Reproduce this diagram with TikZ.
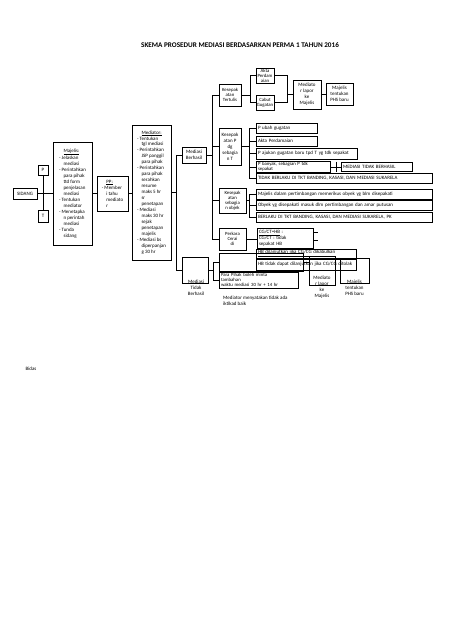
\documentclass[tikz,border=0pt]{standalone}
\usepackage{fontspec}
\setmainfont{Carlito}
\newcommand{\kecil}{\fontsize{5}{6}\selectfont}
\newcommand{\rapat}{\fontsize{4.8}{5}\selectfont}
\newcommand{\geser}{\hspace*{4.5bp}}
\tikzset{
  kotak/.style={draw, line width=0.75pt, inner sep=1pt, font=\kecil, align=center},
  lebar/.style={kotak, align=left, inner xsep=2pt},
  teks/.style={inner sep=0pt, font=\kecil, align=center},
  sambung/.style={line width=0.75pt},
}
\begin{document}
\begin{tikzpicture}[x=1bp,y=-1bp]
\useasboundingbox (0,0) rectangle (474,632);
\node[font=\bfseries\fontsize{7.2}{8}\selectfont] (judul) at (240,45) {SKEMA PROSEDUR MEDIASI BERDASARKAN PERMA 1 TAHUN 2016};

% sidang dan majelis
\node[kotak, minimum width=24bp, minimum height=11bp] (sidang) at (25,193.5) {SIDANG};
\node[kotak, minimum width=10bp, minimum height=10bp] (p) at (43,170) {P};
\node[kotak, minimum width=10bp, minimum height=12bp] (t) at (43,216) {T};
\node[lebar, minimum width=39bp, minimum height=103bp] (majelis) at (72.5,193.5) {\geser\underline{Majelis:}\\
- Jelaskan\\\geser mediasi\\
- Perintahkan\\\geser para pihak\\\geser ttd form\\\geser penjelasan\\\geser mediasi\\
- Tentukan\\\geser mediator\\
- Menetapka\\\geser n perintah\\\geser mediasi\\
- Tunda\\\geser sidang};
\node[lebar, minimum width=31bp, minimum height=35bp] (pp) at (112.5,193.5) {\geser\underline{PP:}\\
- Member\\\geser i tahu\\\geser mediato\\\geser r};
\node[lebar, minimum width=39bp, minimum height=135bp] (mediator) at (151.5,192.5) {\geser\underline{Mediator:}\\
- Tentukan\\\geser tgl mediasi\\
- Perintahkan\\\geser JSP panggil\\\geser para pihak\\
- Perintahkan\\\geser para pihak\\\geser serahkan\\\geser resume\\\geser maks 5 hr\\\geser sr\\\geser penetapan\\
- Mediasi\\\geser maks 30 hr\\\geser sejak\\\geser penetapan\\\geser majelis\\
- Mediasi bs\\\geser diperpanjan\\\geser g 30 hr};
\draw[sambung] (sidang) -- (majelis);
\draw[sambung] (p) -- (t);
\draw[sambung] (majelis) -- (pp);
\draw[sambung] (pp.east) -- (pp.east -| mediator.west);

% mediasi berhasil
\node[kotak, minimum width=24bp, minimum height=16bp] (berhasil) at (194,155) {Mediasi\\Berhasil};
\node[kotak, minimum width=26bp, minimum height=26bp] (tdkberhasil) at (195,270) {};
\node[teks] (tdkteks) at (196,288) {Mediasi\\Tidak\\Berhasil};
\coordinate (cabang1) at (177,192);
\draw[sambung] (mediator.east |- cabang1) -- (cabang1);
\draw[sambung] (berhasil.west) -- ++(-5,0) |- (tdkberhasil.west);

\node[kotak, minimum width=22bp, minimum height=22bp, font=\rapat] (tertulis) at (230,95) {Kesepak\\atan\\Tertulis};
\node[kotak, minimum width=22bp, minimum height=37bp] (sebagiant) at (230,146.5) {Kesepak\\atan P\\dg\\sebagia\\n T};
\node[kotak, minimum width=27bp, minimum height=25bp, font=\rapat] (objek) at (232.5,200.5) {Kesepak\\atan\\sebagia\\n objek};
\node[kotak, minimum width=27bp, minimum height=22bp, font=\rapat] (cerai) at (232.5,239) {Perkara\\Cerai\\di};
\coordinate (cabang2) at (213,155);
\draw[sambung] (berhasil.east) -- (cabang2);
\draw[sambung] (tertulis.west) -- ++(-6,0) |- (cerai.west);
\draw[sambung] (sebagiant.west) -- ++(-6,0);
\draw[sambung] (objek.west) -- ++(-6,0);

% kesepakatan tertulis
\node[kotak, minimum width=18bp, minimum height=15bp, inner sep=0pt, font=\rapat] (akta) at (265,75.5) {Akta\\Perdam\\aian};
\node[kotak, minimum width=18bp, minimum height=15bp, inner sep=0pt, font=\rapat] (cabut) at (265,102.5) {Cabut\\Gugatan};
\node[kotak, minimum width=28bp, minimum height=29bp] (lapor) at (307,94.5) {Mediato\\r lapor\\ke\\Majelis};
\node[kotak, minimum width=27bp, minimum height=22bp] (phs) at (339.5,94) {Majelis\\tentukan\\PHS baru};
\draw[sambung] (tertulis.east) -- (251,95);
\draw[sambung] (akta.west) -- ++(-5,0) |- (cabut.west);
\draw[sambung] (akta.east) -- ++(13,0) |- (cabut.east);
\draw[sambung] (lapor.west) -- ++(-6,0);
\draw[sambung] (lapor.east) -- (lapor.east -| phs.west);

% kesepakatan P dg sebagian T
\node[lebar, minimum width=61bp, minimum height=10bp, text width=57bp] (ubah) at (286.5,128) {P ubah gugatan};
\node[lebar, minimum width=61bp, minimum height=10bp, text width=57bp] (akta2) at (286.5,141) {Akta Perdamaian};
\node[lebar, minimum width=101bp, minimum height=11bp, text width=97bp] (ajukan) at (306.5,153.5) {P ajukan gugatan baru tpd T yg tdk sepakat};
\node[lebar, minimum width=74bp, minimum height=10bp, text width=70bp, font=\rapat] (banyak) at (293,167) {P banyak, sebagian P tdk\\sepakat};
\node[lebar, minimum width=71bp, minimum height=9bp, text width=67bp] (mtb) at (376.5,166.5) {MEDIASI TIDAK BERHASIL};
\node[lebar, minimum width=176bp, minimum height=10bp, text width=172bp] (tdkberlaku) at (344,178) {TIDAK BERLAKU DI TKT BANDING, KASASI, DAN MEDIASI SUKARELA};
\draw[sambung] (sebagiant.east) -- (250,146.5);
\draw[sambung] (ubah.west) -- ++(-6,0) |- (tdkberlaku.west);
\draw[sambung] (akta2.west) -- ++(-6,0);
\draw[sambung] (ajukan.west) -- ++(-6,0);
\draw[sambung] (banyak.west) -- ++(-6,0);
\draw[sambung] (banyak.east) -- (banyak.east -| mtb.west);
\coordinate (tik) at (336,167);
\draw[sambung] ([yshift=5bp]tik) -- ([yshift=-5bp]tik);

% kesepakatan sebagian objek
\node[lebar, minimum width=176bp, minimum height=10bp, text width=172bp] (periksa) at (344,194) {Majelis dalam pertimbangan memerikus obyek yg blm disepakati};
\node[lebar, minimum width=176bp, minimum height=10bp, text width=172bp] (masuk) at (344,205) {Obyek yg disepakati masuk dlm pertimbangan dan amar putusan};
\node[lebar, minimum width=176bp, minimum height=10bp, text width=172bp] (berlaku) at (344,217) {BERLAKU DI TKT BANDING, KASASI, DAN MEDIASI SUKARELA, PK};
\draw[sambung] (objek.east) -- (250,200.5);
\draw[sambung] (periksa.west) -- ++(-6,0) |- (berlaku.west);
\draw[sambung] (masuk.west) -- ++(-6,0);

% perkara cerai
\node[lebar, minimum width=56bp, minimum height=20bp, text width=52bp] (cg) at (285,238) {\underline{CG/CT=HB} :\\CG/CT : tidak\\sepakat HB};
\draw[sambung] (cerai.east) -- (cerai.east -| cg.west);
\draw[sambung] ([yshift=6bp]cg.east) -- ++(5,0);
\draw[sambung] ([yshift=-2bp]cg.east) -- ++(5,0);
\node[lebar, minimum width=100bp, minimum height=9bp, text width=96bp] (hb1) at (306,253.5) {\underline{HB dilanjutkan jika CG/CG dikabulkan}};
\node[lebar, minimum width=100bp, minimum height=11bp, text width=96bp] (hb2) at (306,264.5) {HB tidak dapat dilanjutkan jika CG/CG ditolak};

% mediasi tidak berhasil
\node[kotak, minimum width=84bp, minimum height=18bp] (kosong) at (261,262) {};
\node[lebar, minimum width=79bp, minimum height=16bp, text width=75bp, font=\rapat] (minta) at (258.5,280) {Para Pihak boleh minta\\tambahan\\waktu mediasi 30 hr + 14 hr};
\node[teks, align=left, anchor=north west] (iktikad) at (223,295.5) {Mediator menyatakan tidak ada\\iktikad baik};
\draw[sambung] (tdkberhasil.east) -- ++(6,0);
\draw[sambung] (kosong.west) -- ++(-5,0) |- (minta.west);
\node[kotak, minimum width=26bp, minimum height=29bp] (lapor2) at (322,270.5) {};
\node[teks] (lapor2teks) at (322,287.5) {Mediato\\r lapor\\ke\\Majelis};
\node[kotak, minimum width=29bp, minimum height=25bp] (phs2) at (354.5,270.5) {};
\node[teks] (phs2teks) at (354.5,288) {Majelis\\tentukan\\PHS baru};
\draw[sambung] (kosong.east) -- (kosong.east -| lapor2.west);
\draw[sambung] (lapor2) -- (phs2);

\node[teks] (bidas) at (31,369) {Bidas};
\end{tikzpicture}
\end{document}
